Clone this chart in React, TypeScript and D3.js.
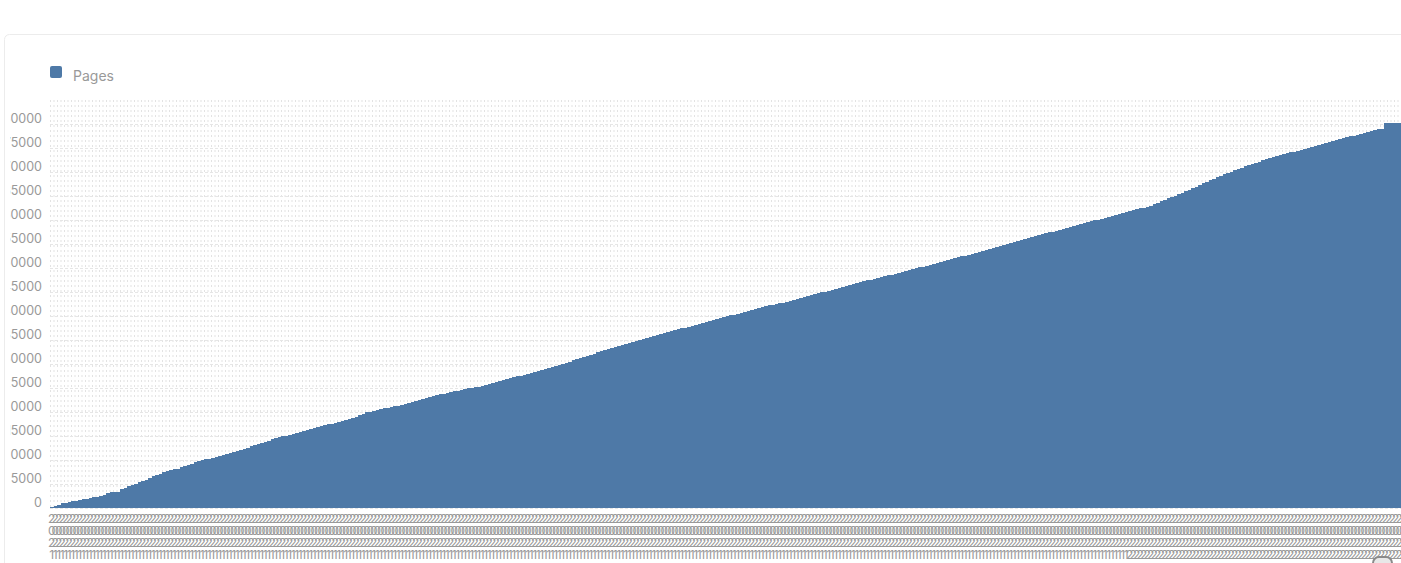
import React, { useEffect, useRef, useState } from "react";
import * as d3 from "d3";

const seriesName = "Pages";
const startDate = "2021-02-27";
const yTicks = [0, 5000, 10000, 15000, 20000, 25000, 30000, 35000, 40000, 45000, 50000, 55000, 60000, 65000, 70000, 75000, 80000];
const pages = [
  150, 420, 700, 1000, 1120, 1250, 1380, 1500, 1640, 1780,
  1920, 2060, 2200, 2350, 2500,
  2780, 3060, 3340, 3350, 3350, 3900, 4200, 4480, 4760, 5040, 5320, 5600, 5880, 6300, 6700,
  6950, 7150, 7400, 7650, 7900, 8150, 8200, 8450, 8700, 8950, 9250, 9500, 9750, 10000,
  10150, 10300, 10500, 10700, 10900, 11100, 11300, 11500, 11700, 11900, 12100, 12300, 12600, 12900,
  13100, 13300, 13500, 13800, 14050, 14300, 14500, 14700, 14900, 15100, 15300, 15450, 15600, 15800,
  16000, 16200, 16450, 16700, 16900, 17100, 17300, 17450, 17600, 17800, 18000, 18200, 18400, 18600, 18750,
  19000, 19300, 19600, 19900, 20100, 20300, 20450, 20600, 20750, 20900, 21050, 21200, 21350, 21500,
  21700, 21900, 22100, 22300, 22500, 22700, 22900, 23100, 23300, 23500, 23700, 23850, 24000, 24150, 24300, 24450, 24600, 24750, 24900, 25000,
  25150, 25300, 25450, 25600, 25800, 26000, 26200, 26400, 26600, 26800, 27000, 27200, 27400, 27600, 27800, 28000, 28200, 28400, 28600, 28800, 29000, 29200, 29400, 29600, 29800, 30000,
  30250, 30500, 30750, 31000, 31250, 31450, 31650, 31900, 32150, 32400, 32650, 32900, 33150, 33400, 33600, 33800, 34000, 34200, 34400, 34600, 34800, 35000, 35200, 35400, 35600,
  35800, 36000, 36200, 36400, 36600, 36800, 37000, 37200, 37400, 37600, 37800, 38000, 38200, 38400, 38600, 38800, 39000, 39200, 39400, 39600, 39800, 40000, 40150, 40300, 40450, 40600,
  40800, 41000, 41200, 41400, 41600, 41800, 42000, 42200, 42350, 42500, 42650, 42800, 43000, 43200, 43400, 43600, 43800, 44000, 44200, 44400, 44600, 44800, 44950, 45100, 45250, 45400,
  45600, 45800, 46000, 46200, 46400, 46600, 46800, 47000, 47200, 47400, 47600, 47800, 48000, 48150, 48300, 48450, 48600, 48800, 49000, 49200, 49400, 49600, 49800, 50000, 50150, 50300, 50450, 50600,
  50800, 51000, 51200, 51400, 51600, 51800, 52000, 52200, 52400, 52600, 52800, 53000, 53200, 53400, 53600, 53800, 54000, 54200, 54400, 54600, 54800, 55000, 55200,
  55400, 55600, 55800, 56000, 56200, 56400, 56600, 56800, 57000, 57200, 57400, 57600, 57800, 58000, 58200, 58400, 58600, 58800, 59000, 59200, 59400, 59600, 59750, 59900, 60050, 60200,
  60400, 60600, 60800, 61000, 61200, 61400, 61600, 61800, 62000, 62200, 62400, 62600, 62800, 63000, 63300, 63600, 63900, 64200, 64500, 64800, 65100, 65400, 65700, 66000, 66300, 66600, 66950, 67300, 67700,
  68000, 68300, 68600, 68900, 69200, 69500, 69800, 70100, 70400, 70650, 70900, 71150, 71400, 71650, 71900, 72150, 72400, 72650, 72900, 73100, 73300, 73500, 73700, 73900, 74100, 74250, 74400, 74600,
  74800, 75000, 75200, 75400, 75600, 75800, 76000, 76200, 76400, 76600, 76800, 77000, 77200, 77400, 77600, 77800, 78000, 78200, 78400, 78600, 78750, 78900, 79000,
  80300, 80300, 80300, 80300, 80300, 80300, 80300, 80300, 80300,
];

const fmt = d3.timeFormat("%Y-%m-%d");
const start = d3.timeParse("%Y-%m-%d")(startDate) as Date;
const dates = pages.map((_, i) => fmt(d3.timeDay.offset(start, i)));

const W = 1401;
const H = 563;
const plotLeft = 50;
const step = 3.5;
const color = "#4e79a7";
const font = "Inter, 'Open Sans', sans-serif";

export default function App() {
  const x = d3
    .scaleBand<string>()
    .domain(dates)
    .range([plotLeft, plotLeft + dates.length * step])
    .padding(0);
  const y = d3.scaleLinear().domain([0, 85000]).range([508, 100]);
  const bw = x.bandwidth();
  const rows = [0, 1, 2, 3, 4, 5];

  const topLabel = useRef<SVGTextElement>(null);
  const [clipX, setClipX] = useState(13);
  useEffect(() => {
    const el = topLabel.current;
    if (el) {
      try {
        const n = el.getNumberOfChars();
        const p = el.getStartPositionOfChar(n - 4);
        setClipX(p.x - 0.5);
      } catch (e) {
        /* keep default */
      }
    }
  }, []);

  return (
    <div style={{ position: "fixed", left: 0, top: 0, width: W, height: H, overflow: "hidden", background: "#fff" }}>
      <svg width={W} height={H} style={{ display: "block" }}>
        <defs>
          <clipPath id="yclip">
            <rect x={clipX} y={0} width={50} height={H} />
          </clipPath>
        </defs>
        <rect x={4.5} y={34.5} width={1600} height={700} rx={5} fill="#fff" stroke="#ececec" />
        {/* legend */}
        <rect x={50} y={66} width={12} height={12} rx={2} fill={color} />
        <text x={73} y={81} fontFamily={font} fontSize={14} fill="#999">
          {seriesName}
        </text>
        {/* grid */}
        <g>
          {dates.map((d) => (
            <line
              key={"v" + d}
              x1={(x(d) as number) + 0.5}
              x2={(x(d) as number) + 0.5}
              y1={100}
              y2={508}
              stroke="#e3e3e3"
              strokeWidth={1}
              strokeDasharray="2,3"
            />
          ))}
          {yTicks.map((t) => (
            <line
              key={"h" + t}
              x1={plotLeft}
              x2={W}
              y1={Math.round(y(t)) + 0.5}
              y2={Math.round(y(t)) + 0.5}
              stroke="#e6e6e6"
              strokeDasharray="3,2"
            />
          ))}
        </g>
        {/* y labels */}
        <g clipPath="url(#yclip)">
          {yTicks.map((t, i) => (
            <text
              key={"yl" + t}
              ref={i === yTicks.length - 1 ? topLabel : undefined}
              x={42}
              y={y(t)}
              dy={-1}
              textAnchor="end"
              fontFamily={font}
              fontSize={12.5}
              fill="#999"
            >
              {String(t)}
            </text>
          ))}
        </g>
        {/* bars */}
        <g shapeRendering="crispEdges">
          {pages.map((v, i) => (
            <rect
              key={"b" + i}
              x={x(dates[i]) as number}
              y={y(v)}
              width={bw + 0.6}
              height={y(0) - y(v)}
              fill={color}
            />
          ))}
        </g>
        {/* x labels: one character per line */}
        <g fontFamily={font} fontSize={12} fill="#999" textAnchor="middle">
          {dates.map((d) => {
            const cx = (x(d) as number) + bw / 2;
            return (
              <text key={"xl" + d} x={cx} y={523}>
                {rows.map((r) => (
                  <tspan key={r} x={cx} y={523 + r * 12}>
                    {d.charAt(r)}
                  </tspan>
                ))}
              </text>
            );
          })}
        </g>
        <rect x={1373} y={557} width={19} height={14} rx={6} fill="#e8e8e8" stroke="#8a8a8a" strokeWidth={2} />
      </svg>
    </div>
  );
}
